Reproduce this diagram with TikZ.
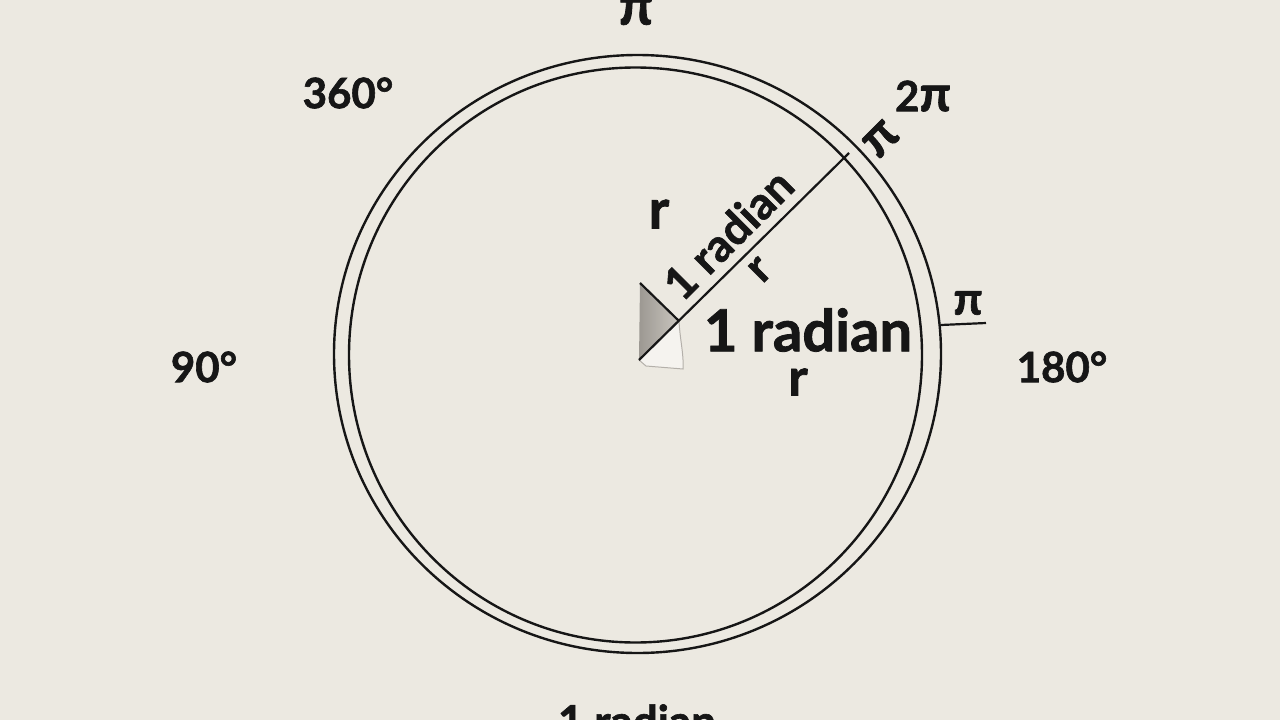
\documentclass[tikz,border=0pt]{standalone}
\usepackage{fontspec}
\setmainfont{Lato}[FakeBold=1.4]
\definecolor{bg}{HTML}{ECE9E1}
\definecolor{ink}{HTML}{161616}
\definecolor{wedgegray}{HTML}{9C9892}
\definecolor{wedgelight}{HTML}{CAC6BF}
\definecolor{paper}{HTML}{F5F3EF}
\definecolor{paperedge}{HTML}{B4B0AA}
\newcommand{\fs}[1]{\fontsize{#1}{#1}\selectfont\bfseries}
\begin{document}
\begin{tikzpicture}[x=1pt,y=-1pt,
  ring/.style={draw=ink, line width=2.4pt},
  thin line/.style={draw=ink, line width=2.2pt},
  lbl/.style={inner sep=0pt, text=ink}]
\fill[bg] (0,0) rectangle (1280,720);
\useasboundingbox (0,0) rectangle (1280,720);

% circles
\draw[ring] (637.5,354) ellipse [x radius=303.5, y radius=299];
\draw[ring] (635.5,355) ellipse [x radius=286.5, y radius=287.5];

% small wedge near the centre
\coordinate (O) at (639,360);
\coordinate (T) at (640,283);
\coordinate (M) at (679,321);
\fill[paper, draw=paperedge, line width=1pt] (O) -- (M) .. controls (680,340) and (684,355) .. (683,369) -- (646,366) -- cycle;
\shade[left color=wedgegray, right color=wedgelight] (T) -- (M) -- (O) -- cycle;
\draw[thin line] (T) -- (M);

% radius
\coordinate (R) at (849,153);
\draw[thin line] (O) -- (R);

% right pi marker
\coordinate (p1) at (941,325);
\coordinate (p2) at (986,323);
\draw[thin line] (p1) -- (p2);

% labels
\node[lbl, font=\fs{54}] (piTop) at (636,11) {π};
\node[lbl, font=\fs{42}] (d360) at (348,93) {360°};
\node[lbl, font=\fs{42}] (twopi) at (923,96) {2\fontsize{50}{50}\selectfont π};
\node[lbl, font=\fs{52}, rotate=45] (piDiag) at (881,139) {π};
\node[lbl, font=\fs{55}] (rTop) at (659,214) {r};
\node[lbl, font=\fs{45}, rotate=45] (radDiag) at (728,234) {1 radian};
\node[lbl, font=\fs{45}, rotate=45] (rDiag) at (760,270) {r};
\node[lbl, font=\fs{58}] (radBig) at (808,330) {1 radian};
\node[lbl, font=\fs{52}] (rLow) at (798,382) {r};
\node[lbl, font=\fs{46}] (piRight) at (968,303) {π};
\node[lbl, font=\fs{42}] (d90) at (204,367) {90°};
\node[lbl, font=\fs{42}] (d180) at (1062,367) {180°};
\node[lbl, font=\fs{44}, anchor=base] (radBottom) at (637,737) {1 radian};
\end{tikzpicture}
\end{document}
